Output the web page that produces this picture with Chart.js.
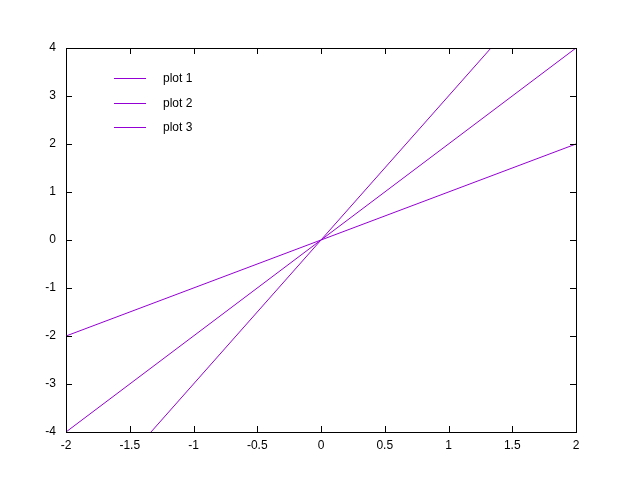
<!DOCTYPE html>
<html>
<head>
<meta charset="utf-8">
<script src="https://cdn.jsdelivr.net/npm/chart.js@4/dist/chart.umd.min.js"></script>
<style>
  html, body { margin: 0; padding: 0; background: #fff; }
</style>
</head>
<body>
<canvas id="myChart" width="640" height="480"></canvas>
<script>
// line data: y = x, y = 2x, y = 3x
let xValues = [-2, 0, 2];
let plot1 = [-2, 0, 2];
let plot2 = [-4, 0, 4];
let plot3 = [-6, 0, 6];
let labels = ['plot 1', 'plot 2', 'plot 3'];
let lineColor = '#9400d3';

function toPoints(ys) {
    return xValues.map((x, i) => ({ x: x, y: ys[i] }));
}

// inward ticks on all 4 sides + frame + legend inside plot
const gnuplotFrame = {
    id: 'gnuplotFrame',
    afterDatasetsDraw(chart) {
        const c = chart.ctx;
        const a = chart.chartArea;
        const xs = chart.scales.x, ys = chart.scales.y;
        const tl = 6;
        c.save();
        c.strokeStyle = '#000';
        c.lineWidth = 1;
        c.beginPath();
        xs.ticks.forEach(t => {
            const px = Math.round(xs.getPixelForValue(t.value)) + 0.5;
            c.moveTo(px, a.bottom); c.lineTo(px, a.bottom - tl);
            c.moveTo(px, a.top); c.lineTo(px, a.top + tl);
        });
        ys.ticks.forEach(t => {
            const py = Math.round(ys.getPixelForValue(t.value)) + 0.5;
            c.moveTo(a.left, py); c.lineTo(a.left + tl, py);
            c.moveTo(a.right, py); c.lineTo(a.right - tl, py);
        });
        c.stroke();
        c.strokeRect(Math.round(a.left) + 0.5, Math.round(a.top) + 0.5,
                     Math.round(a.right - a.left), Math.round(a.bottom - a.top));
        c.restore();

        // legend
        chart.data.datasets.forEach((ds, i) => {
            const y = Math.round(a.top + 30 + i * 24.5);
            c.save();
            c.lineWidth = 1;
            c.strokeStyle = ds.borderColor;
            c.beginPath();
            c.moveTo(a.left + 48, y + 0.5);
            c.lineTo(a.left + 80, y + 0.5);
            c.stroke();
            c.font = '12px "Liberation Sans", Arial, sans-serif';
            c.textBaseline = 'middle';
            c.textAlign = 'left';
            c.fillStyle = '#000';
            c.fillText(ds.label, a.left + 97, y + 1);
            c.restore();
        });
    }
};

const ctx = document.getElementById('myChart').getContext('2d');
const myChart = new Chart(ctx, {
    type: 'scatter',
    data: {
        datasets: [plot1, plot2, plot3].map((ys, i) => ({
            label: labels[i],
            data: toPoints(ys),
            showLine: true,
            borderColor: lineColor,
            backgroundColor: lineColor,
            borderWidth: 1,
            pointRadius: 0,
            tension: 0
        }))
    },
    options: {
        responsive: false,
        animation: false,
        layout: { padding: { left: 0, right: 64, top: 48, bottom: 0 } },
        scales: {
            x: {
                type: 'linear',
                min: -2,
                max: 2,
                afterFit: s => { s.height = 48; },
                ticks: {
                    stepSize: 0.5,
                    padding: 6,
                    color: '#000',
                    font: { family: '"Liberation Sans", Arial, sans-serif', size: 12 },
                    maxRotation: 0,
                    callback: v => String(v)
                },
                grid: { display: false, drawTicks: false },
                border: { display: false }
            },
            y: {
                type: 'linear',
                min: -4,
                max: 4,
                afterFit: s => { s.width = 66; },
                ticks: {
                    stepSize: 1,
                    padding: 10,
                    color: '#000',
                    font: { family: '"Liberation Sans", Arial, sans-serif', size: 12 },
                    callback: v => String(v)
                },
                grid: { display: false, drawTicks: false },
                border: { display: false }
            }
        },
        plugins: {
            legend: { display: false },
            tooltip: { enabled: false }
        }
    },
    plugins: [gnuplotFrame]
});
</script>
</body>
</html>
